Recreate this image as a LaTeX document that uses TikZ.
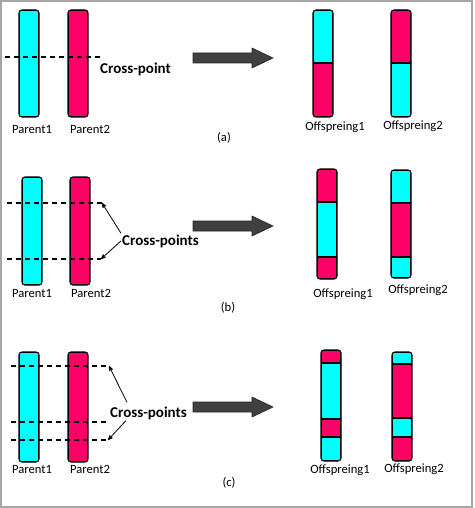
\documentclass[tikz,border=0pt]{standalone}
\usepackage{fontspec}
\setmainfont{Carlito}
\usetikzlibrary{arrows}

\definecolor{chromcyan}{RGB}{0,255,255}
\definecolor{chromred}{RGB}{255,0,102}
\definecolor{arrowgray}{RGB}{64,64,64}

\tikzset{
  barframe/.style={draw, line width=1.1pt, rounded corners=3pt, minimum width=20pt, inner sep=0pt},
  cut/.style={dash pattern=on 5pt off 4pt, line width=1.1pt},
  lbl/.style={anchor=base, font=\fontsize{12.6}{14}\selectfont},
  cross/.style={anchor=base west, inner sep=1pt, font=\fontsize{15}{17}\selectfont\bfseries},
  pointer/.style={-stealth', line width=0.8pt},
  bigarrow/.style={fill=arrowgray, draw=black!85, line width=0.6pt}
}

\newcommand{\chrombar}[5]{%
  \begin{scope}
    \clip[rounded corners=3pt] ({#2-10},#3) rectangle ({#2+10},#4);
    \foreach \ya/\yb/\col in {#5}
      \filldraw[fill=\col, draw=black, line width=1.1pt] ({#2-10},\ya) rectangle ({#2+10},\yb);
  \end{scope}
  \node[barframe, minimum height={#4-#3}] (#1) at (#2,{(#3+#4)/2}) {};
}

\begin{document}
\begin{tikzpicture}[x=1pt, y=-1pt]
\useasboundingbox (0,0) rectangle (474,508);
\draw[gray!70, line width=2pt] (1,1) rectangle (471.7,507);

\chrombar{p1a}{29}{10}{117}{10/117/chromcyan}
\chrombar{p2a}{78}{10}{117}{10/117/chromred}
\chrombar{o1a}{323}{10}{117}{10/63/chromcyan, 63/117/chromred}
\chrombar{o2a}{401}{10}{117}{10/63/chromred, 63/117/chromcyan}

\draw[cut] (5,57) -- (103,57);
\node[cross] (cpa) at (99,74) {Cross-point};

\node[lbl] (p1alab) at (32,133) {Parent1};
\node[lbl] (p2alab) at (90,133) {Parent2};
\node[lbl] (o1alab) at (335,131) {Offspreing1};
\node[lbl] (o2alab) at (413,129) {Offspreing2};
\node[lbl] (capa) at (224,141) {(a)};

\chrombar{p1b}{32}{177}{285}{177/285/chromcyan}
\chrombar{p2b}{80}{177}{285}{177/285/chromred}
\chrombar{o1b}{327}{169}{279}{169/202/chromred, 202/257/chromcyan, 257/279/chromred}
\chrombar{o2b}{401}{170}{278}{170/203/chromcyan, 203/257/chromred, 257/278/chromcyan}

\coordinate (cb1) at (102,203);
\coordinate (cb2) at (101,259);
\draw[cut] (7,203) -- (cb1);
\draw[cut] (7,259) -- (cb2);
\node[cross] (cpb) at (121,245) {Cross-points};
\draw[pointer] (cpb.north west) -- (cb1);
\draw[pointer] (cpb.west) -- (cb2);

\node[lbl] (p1blab) at (32,297) {Parent1};
\node[lbl] (p2blab) at (91,297) {Parent2};
\node[lbl] (o1blab) at (343,297) {Offspreing1};
\node[lbl] (o2blab) at (418,293) {Offspreing2};
\node[lbl] (capb) at (228,311) {(b)};

\chrombar{p1c}{29}{352}{462}{352/462/chromcyan}
\chrombar{p2c}{78}{352}{462}{352/462/chromred}
\chrombar{o1c}{331}{350}{461}{350/363/chromred, 363/419/chromcyan, 419/437/chromred, 437/461/chromcyan}
\chrombar{o2c}{402}{352}{461}{352/364/chromcyan, 364/418/chromred, 418/437/chromcyan, 437/461/chromred}

\coordinate (cc1) at (109,366);
\coordinate (cc3) at (108,440);
\draw[cut] (11,366) -- (cc1);
\draw[cut] (11,422) -- (108,422);
\draw[cut] (11,440) -- (cc3);
\node[cross] (cpc) at (109,417) {Cross-points};
\draw[pointer] ([shift={(18pt,3pt)}]cpc.north west) -- (cc1);
\draw[pointer] ([xshift=17pt]cpc.south west) -- (cc3);

\node[lbl] (p1clab) at (32,473) {Parent1};
\node[lbl] (p2clab) at (90,473) {Parent2};
\node[lbl] (o1clab) at (340,473) {Offspreing1};
\node[lbl] (o2clab) at (414,472) {Offspreing2};
\node[lbl] (capc) at (229,486) {(c)};

\foreach \ym in {58,226,407}
  \filldraw[bigarrow] (193,{\ym-5}) -- (252,{\ym-5}) -- (252,{\ym-10}) -- (273,\ym)
    -- (252,{\ym+10}) -- (252,{\ym+5}) -- (193,{\ym+5}) -- cycle;

\end{tikzpicture}
\end{document}
